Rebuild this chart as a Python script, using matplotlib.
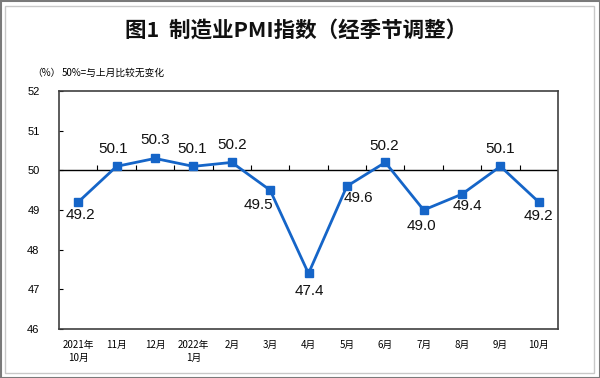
import matplotlib
matplotlib.use('Agg')
import matplotlib.pyplot as plt
from matplotlib.patches import Rectangle

plt.rcParams['font.family'] = ['Noto Sans CJK SC', 'DejaVu Sans']

# Data
months = ['2021年\n10月', '11月', '12月', '2022年\n1月', '2月', '3月', '4月',
          '5月', '6月', '7月', '8月', '9月', '10月']
pmi = [49.2, 50.1, 50.3, 50.1, 50.2, 49.5, 47.4, 49.6, 50.2, 49.0, 49.4, 50.1, 49.2]
# label offsets in pixels (dx, dy)
label_offsets = [(2, -13), (-3, 17), (0, 18), (-1, 17), (0, 17), (-12, -15), (1, -18),
                 (12, -12), (-1, 16), (-2, -16), (5, -12), (0, 17), (0, -14)]
yticks = [46, 47, 48, 49, 50, 51, 52]

fig = plt.figure(figsize=(6, 3.78), dpi=100)

# outer frames
fig.patches.append(Rectangle((0.5 / 600, 0.5 / 378), 599 / 600, 377 / 378, transform=fig.transFigure,
                             fill=False, edgecolor='#7a7a7a', linewidth=1.5))
fig.patches.append(Rectangle((5 / 600, 5 / 378), 589 / 600, 367 / 378, transform=fig.transFigure,
                             fill=False, edgecolor='#c8c8c8', linewidth=1.0))

ax = fig.add_axes([59 / 600, 1 - 329 / 378, 499 / 600, 238 / 378])
x = list(range(len(months)))

ax.axhline(50, color='black', linewidth=1.0, zorder=1)
# small ticks along the 50 line at the category boundaries
ax.vlines([i + 0.5 for i in x[:-1]], 50, 50.13, color='black', linewidth=0.8, zorder=1)

ax.plot(x, pmi, color='#1565C8', linewidth=2, marker='s', markersize=6, zorder=3)

for xi, v, (dx, dy) in zip(x, pmi, label_offsets):
    ax.annotate(f'{v:.1f}', (xi, v), xytext=(dx, dy), textcoords='offset pixels',
                ha='center', va='center', fontsize=11, family='Liberation Sans', color='#111111')

ax.set_xlim(-0.5, 12.5)
ax.set_ylim(46, 52)
ax.set_yticks(yticks)
ax.set_yticklabels([str(t) for t in yticks], family='Liberation Sans', fontsize=8)
ax.set_xticks(x)
ax.set_xticklabels(months, fontsize=7, linespacing=1.3)
ax.tick_params(axis='x', length=0, pad=8)
ax.tick_params(axis='y', direction='in', length=3, pad=14)
for s in ax.spines.values():
    s.set_color('#404040')
    s.set_linewidth(1.2)

fig.text(0.493, 1 - 30 / 378, '图1  制造业PMI指数（经季节调整）', ha='center', va='center',
         fontsize=15.5, fontweight='bold', color='#111111')
fig.text(32 / 600, 1 - 73 / 378, '（%）', ha='left', va='center', fontsize=7)
fig.text(62 / 600, 1 - 73 / 378, '50%=与上月比较无变化', ha='left', va='center', fontsize=7)

fig.savefig('out.png', dpi=100)
